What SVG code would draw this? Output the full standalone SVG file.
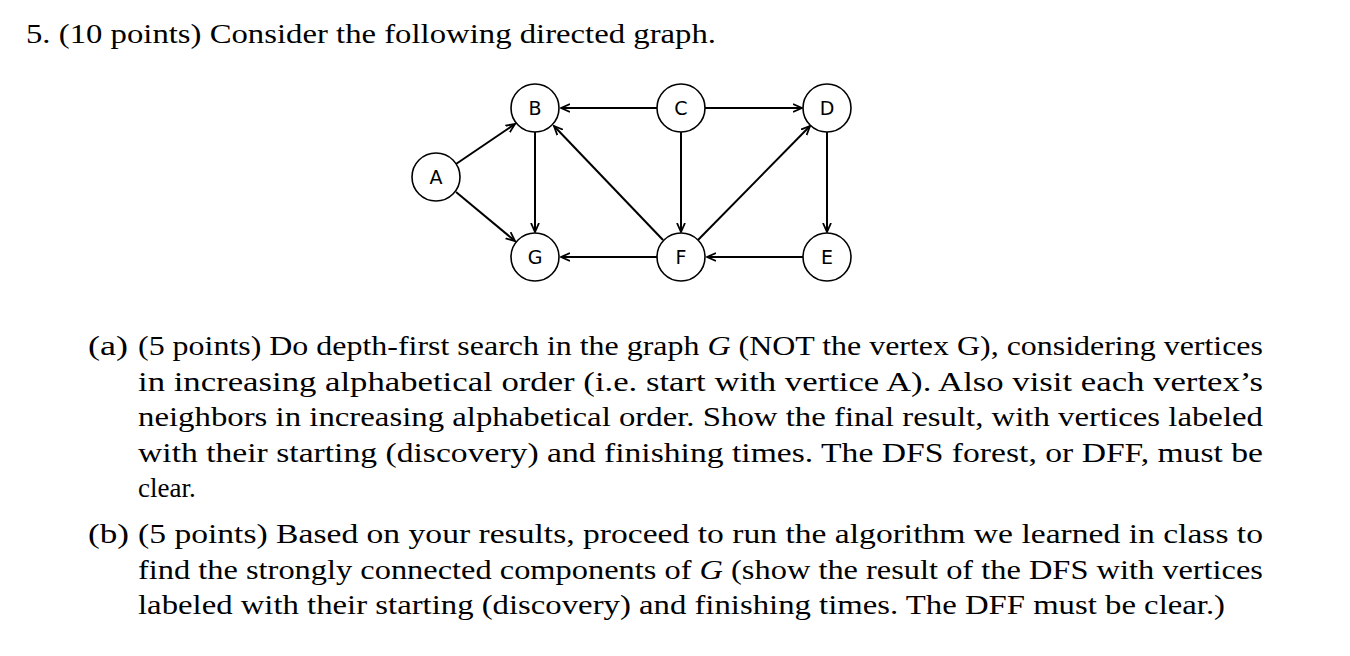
<svg xmlns="http://www.w3.org/2000/svg" width="1350" height="656" viewBox="0 0 1350 656">
<style>
.t{font-family:"Liberation Serif",serif;font-size:27px;fill:#000}
.n circle{fill:#fff;stroke:#000;stroke-width:1.6}
.n text{font-family:"DejaVu Sans","Liberation Sans",sans-serif;font-size:19px;text-anchor:middle;fill:#000}
.e line{stroke:#000;stroke-width:2;marker-end:url(#ar)}
</style>
<defs><marker id="ar" viewBox="0 0 10 10" refX="9" refY="5" markerWidth="5" markerHeight="5" orient="auto"><path d="M0,1 L9,5 L0,9" fill="none" stroke="#000" stroke-width="1.8"/></marker></defs>
<rect width="1350" height="656" fill="#fff"/>
<text class="t" x="26" y="43" textLength="690" lengthAdjust="spacingAndGlyphs">5. (10 points) Consider the following directed graph.</text>
<g class="e">
<line x1="456" y1="164" x2="515" y2="124"/>
<line x1="456" y1="192" x2="515" y2="241"/>
<line x1="657" y1="108" x2="561" y2="108"/>
<line x1="705" y1="108" x2="802" y2="108"/>
<line x1="535" y1="132" x2="535" y2="232"/>
<line x1="681" y1="132" x2="681" y2="232"/>
<line x1="663" y1="240" x2="554" y2="126"/>
<line x1="698" y1="240" x2="810" y2="126"/>
<line x1="827" y1="132" x2="827" y2="232"/>
<line x1="657" y1="257" x2="561" y2="257"/>
<line x1="803" y1="257" x2="707" y2="257"/>
</g>
<g id="A" class="n"><circle cx="436" cy="177" r="24"/><text x="436" y="184">A</text></g>
<g id="B" class="n"><circle cx="535" cy="108" r="24"/><text x="535" y="115">B</text></g>
<g id="C" class="n"><circle cx="681" cy="108" r="24"/><text x="681" y="115">C</text></g>
<g id="D" class="n"><circle cx="827" cy="108" r="24"/><text x="827" y="115">D</text></g>
<g id="G" class="n"><circle cx="535" cy="257" r="24"/><text x="535" y="264">G</text></g>
<g id="F" class="n"><circle cx="681" cy="257" r="24"/><text x="681" y="264">F</text></g>
<g id="E" class="n"><circle cx="827" cy="257" r="24"/><text x="827" y="264">E</text></g>
<text class="t" x="88" y="355" textLength="40" lengthAdjust="spacingAndGlyphs">(a)</text>
<text class="t" x="138" y="355" textLength="1125" lengthAdjust="spacingAndGlyphs">(5 points) Do depth-first search in the graph <tspan font-style="italic">G</tspan> (NOT the vertex G), considering vertices</text>
<text class="t" x="138" y="391" textLength="1125" lengthAdjust="spacingAndGlyphs">in increasing alphabetical order (i.e.  start with vertice A). Also visit each vertex’s</text>
<text class="t" x="138" y="426" textLength="1125" lengthAdjust="spacingAndGlyphs">neighbors in increasing alphabetical order. Show the final result, with vertices labeled</text>
<text class="t" x="138" y="462" textLength="1125" lengthAdjust="spacingAndGlyphs">with their starting (discovery) and finishing times. The DFS forest, or DFF, must be</text>
<text class="t" x="138" y="497">clear.</text>
<text class="t" x="88" y="543" textLength="41" lengthAdjust="spacingAndGlyphs">(b)</text>
<text class="t" x="138" y="543" textLength="1125" lengthAdjust="spacingAndGlyphs">(5 points) Based on your results, proceed to run the algorithm we learned in class to</text>
<text class="t" x="138" y="579" textLength="1125" lengthAdjust="spacingAndGlyphs">find the strongly connected components of <tspan font-style="italic">G</tspan> (show the result of the DFS with vertices</text>
<text class="t" x="138" y="614" textLength="1087" lengthAdjust="spacingAndGlyphs">labeled with their starting (discovery) and finishing times. The DFF must be clear.)</text>
</svg>
